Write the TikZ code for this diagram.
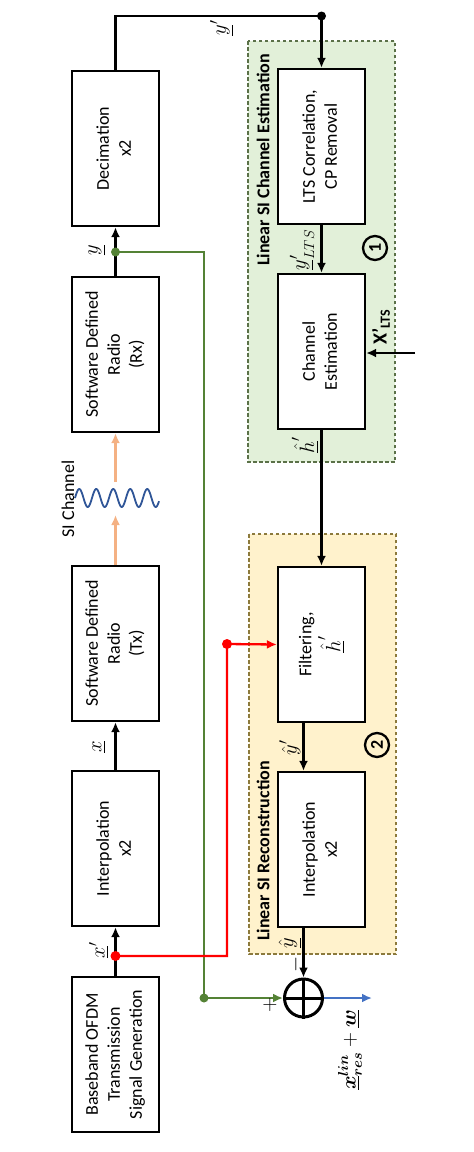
\documentclass[tikz,border=0pt]{standalone}
\usepackage{amsmath}
\usepackage{fontspec}
\setmainfont{Carlito}
\usetikzlibrary{arrows.meta}

\definecolor{estfill}{HTML}{E2F0D9}
\definecolor{estdash}{HTML}{5B7148}
\definecolor{recfill}{HTML}{FFF2CC}
\definecolor{recdash}{HTML}{8C7A3C}
\definecolor{rxgreen}{HTML}{548235}
\definecolor{txred}{HTML}{FF0000}
\definecolor{outblue}{HTML}{4472C4}
\definecolor{sipeach}{HTML}{F4B183}
\definecolor{wavecol}{HTML}{2F5597}

\newcommand{\vtext}[1]{\rotatebox{90}{\begin{tabular}{@{}c@{}}#1\end{tabular}}}

\tikzset{
  every node/.style={font=\fontsize{18}{22}\selectfont},
  blockbox/.style={draw,line width=2.3pt,fill=white,minimum width=87pt,minimum height=155pt,inner sep=0pt},
  sig/.style={line width=2.3pt,-{Latex[length=10pt,width=9pt]}},
  plain/.style={line width=2.3pt},
  region/.style={line width=1.3pt,dash pattern=on 3.5pt off 2.5pt},
  vlabel/.style={rotate=90,inner sep=1pt},
  mlabel/.style={rotate=90,inner sep=1pt,font=\fontsize{20}{24}\selectfont},
  numcirc/.style={draw,circle,line width=2.3pt,minimum size=24pt,inner sep=0pt,font=\fontsize{18}{20}\selectfont\bfseries}
}

\begin{document}
\begin{tikzpicture}[x=1pt,y=-1pt]
    \useasboundingbox (0,0) rectangle (474,1152);

    % shaded regions
    \draw[region,draw=estdash,fill=estfill] (248,41) rectangle (395,462);
    \draw[region,draw=recdash,fill=recfill] (249,534) rectangle (396,954);
    \node[vlabel,font=\fontsize{18}{22}\selectfont\bfseries] (estname) at (263,160) {Linear SI Channel Estimation};
    \node[vlabel,font=\fontsize{18}{22}\selectfont\bfseries] (recname) at (263,851) {Linear SI Reconstruction};
    \node[numcirc] (one) at (375,248) {\rotatebox{90}{1}};
    \node[numcirc] (two) at (377,745) {\rotatebox{90}{2}};

    % transmit / receive chain
    \node[blockbox] (dec) at (115.5,148.5) {\vtext{Decimation\\x2}};
    \node[blockbox] (sdrrx) at (115.5,354.5) {\vtext{Software Defined\\Radio\\(Rx)}};
    \node[blockbox] (sdrtx) at (115.5,643.5) {\vtext{Software Defined\\Radio\\(Tx)}};
    \node[blockbox] (interp) at (115.5,848.5) {\vtext{Interpolation\\x2}};
    \node[blockbox] (base) at (115.5,1054.5) {\vtext{Baseband OFDM\\Transmission\\Signal Generation}};

    % estimation / reconstruction chain
    \node[blockbox] (lts) at (321.5,146.5) {\vtext{LTS Correlation,\\CP Removal}};
    \node[blockbox] (chest) at (321.5,351.5) {\vtext{Channel\\Estimation}};
    \node[blockbox] (filt) at (321.5,644.5) {\vtext{Filtering,\\{\fontsize{20}{24}\selectfont$\hat{\underline{h}}'$}}};
    \node[blockbox] (interpb) at (321.5,849.5) {\vtext{Interpolation\\x2}};
    \node[draw,circle,line width=3pt,minimum size=38pt,inner sep=0pt] (sum) at (303.5,998) {};
    \draw[line width=3pt] (sum.north) -- (sum.south) (sum.west) -- (sum.east);

    % SI channel
    \draw[sig,sipeach] (sdrtx.north) -- (115.5,515);
    \draw[sig,sipeach] (115.5,482) -- (sdrrx.south);
    \draw[wavecol,line width=1.8pt] plot[domain=75:159,samples=150,smooth] (\x,{498-9*sin(21.18*(\x-75))});
    \node[vlabel] (sich) at (68,499) {SI Channel};

    % black signal path
    \coordinate (topdot) at (321.5,16);
    \coordinate (ydot) at (115.5,252);
    \coordinate (xdot) at (115.5,956);
    \coordinate (xlts) at (415,353);
    \draw[plain] (dec.north) |- (topdot);
    \draw[sig] (topdot) -- (lts.north);
    \fill (topdot) circle[radius=4.5pt];
    \draw[sig] (sdrrx.north) -- (dec.south);
    \draw[sig] (interp.north) -- (sdrtx.south);
    \draw[sig] (base.north) -- (interp.south);
    \draw[sig] (lts.south) -- (chest.north);
    \draw[sig] (chest.south) -- (filt.north);
    \draw[sig] ([xshift=-18pt]filt.south) -- ([xshift=-18pt]interpb.north);
    \draw[sig] ([xshift=-18pt]interpb.south) -- (sum.north);
    \draw[sig] (xlts) -- (chest.east |- xlts);

    % green feed of y, red feed of x'
    \draw[sig,rxgreen] (ydot) -- (204,252) -- (204,998) -- (sum.west);
    \fill[rxgreen] (ydot) circle[radius=4.5pt] (204,998) circle[radius=4.5pt];
    \draw[sig,txred] (xdot) -- (227,956) -- (227,644) -- (filt.west);
    \fill[txred] (xdot) circle[radius=5pt] (227,644) circle[radius=5pt];
    \draw[sig,outblue] (sum.east) -- (372,998);

    % labels
    \node[mlabel] (ylab) at (222,28) {$\underline{y}'$};
    \node[mlabel] (yrx) at (97,250) {$\underline{y}$};
    \node[mlabel] (xtx) at (99,747) {$\underline{x}$};
    \node[mlabel] (xin) at (99,950) {$\underline{x}'$};
    \node[mlabel] (ylts) at (302,250) {$\underline{y}'_{LTS}$};
    \node[mlabel] (hlab) at (305,445) {$\hat{\underline{h}}'$};
    \node[mlabel] (yhatp) at (292,748) {$\hat{\underline{y}}'$};
    \node[mlabel] (yhat) at (290,943) {$\hat{\underline{y}}$};
    \node[mlabel] (minus) at (296,964) {$-$};
    \node[mlabel] (plus) at (270,1005) {$+$};
    \node[vlabel,font=\fontsize{20}{24}\selectfont] (xltslab) at (381,327) {\textbf{X’}\textsubscript{\textbf{LTS}}};
    \node[mlabel] (outlab) at (350,1050) {$\boldsymbol{\underline{x}^{lin}_{res}}+\boldsymbol{\underline{w}}$};
\end{tikzpicture}
\end{document}
